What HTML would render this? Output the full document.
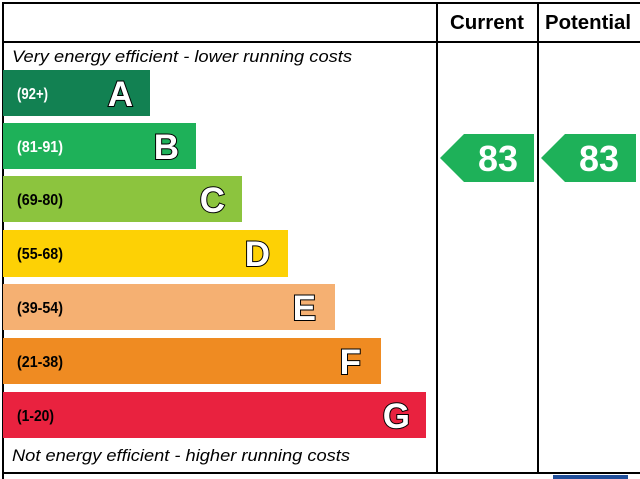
<!DOCTYPE html>
<html><head><style>body{margin:0;background:#fff}svg{display:block}</style></head><body>
<svg width="640" height="479" viewBox="0 0 640 479" xmlns="http://www.w3.org/2000/svg" font-family="Liberation Sans, Arial, sans-serif">
<rect x="0" y="0" width="640" height="479" fill="#fff"/>
<g fill="none" stroke="#000" stroke-width="2">
<rect x="3" y="3" width="640" height="470"/>
<line x1="3" y1="42" x2="640" y2="42"/>
<line x1="437" y1="3" x2="437" y2="473"/>
<line x1="538" y1="3" x2="538" y2="473"/>
<line x1="3" y1="473" x2="3" y2="479"/>
</g>
<rect x="553" y="475" width="75" height="4" fill="#1f4e9a"/>
<text x="487" y="29" font-size="20" font-weight="bold" text-anchor="middle" textLength="74" lengthAdjust="spacingAndGlyphs">Current</text>
<text x="588" y="29" font-size="20" font-weight="bold" text-anchor="middle" textLength="86" lengthAdjust="spacingAndGlyphs">Potential</text>
<text x="12" y="62" font-size="17" font-style="italic" textLength="340" lengthAdjust="spacingAndGlyphs">Very energy efficient - lower running costs</text>
<text x="12" y="461" font-size="17" font-style="italic" textLength="338" lengthAdjust="spacingAndGlyphs">Not energy efficient - higher running costs</text>
<g font-weight="bold">
<rect x="3" y="70" width="147" height="46" fill="#128152"/>
<rect x="3" y="123" width="193" height="46" fill="#1eb159"/>
<rect x="3" y="176" width="239" height="46" fill="#8cc43e"/>
<rect x="3" y="230" width="285" height="47" fill="#fdd105"/>
<rect x="3" y="284" width="332" height="46" fill="#f5b072"/>
<rect x="3" y="338" width="378" height="46" fill="#ef8b22"/>
<rect x="3" y="392" width="423" height="46" fill="#e9223f"/>
<g font-size="16">
<text x="17" y="99" fill="#fff" textLength="31" lengthAdjust="spacingAndGlyphs">(92+)</text>
<text x="17" y="152" fill="#fff" textLength="46" lengthAdjust="spacingAndGlyphs">(81-91)</text>
<text x="17" y="205" fill="#000" textLength="46" lengthAdjust="spacingAndGlyphs">(69-80)</text>
<text x="17" y="259" fill="#000" textLength="46" lengthAdjust="spacingAndGlyphs">(55-68)</text>
<text x="17" y="313" fill="#000" textLength="46" lengthAdjust="spacingAndGlyphs">(39-54)</text>
<text x="17" y="367" fill="#000" textLength="46" lengthAdjust="spacingAndGlyphs">(21-38)</text>
<text x="17" y="421" fill="#000" textLength="37" lengthAdjust="spacingAndGlyphs">(1-20)</text>
</g>
<g font-size="35" fill="#fff" stroke="#000" stroke-width="2" paint-order="stroke" text-anchor="end">
<text x="133" y="106">A</text>
<text x="179" y="159">B</text>
<text x="225" y="212">C</text>
<text x="270" y="266">D</text>
<text x="316" y="320">E</text>
<text x="361" y="374">F</text>
<text x="410" y="428">G</text>
</g>
</g>
<polygon points="440,158 464,134 534,134 534,182 464,182" fill="#1eb159"/>
<polygon points="541,158 565,134 636,134 636,182 565,182" fill="#1eb159"/>
<text x="498" y="171" font-size="36" font-weight="bold" fill="#fff" text-anchor="middle" textLength="40" lengthAdjust="spacingAndGlyphs">83</text>
<text x="599" y="171" font-size="36" font-weight="bold" fill="#fff" text-anchor="middle" textLength="40" lengthAdjust="spacingAndGlyphs">83</text>
</svg>
</body></html>
